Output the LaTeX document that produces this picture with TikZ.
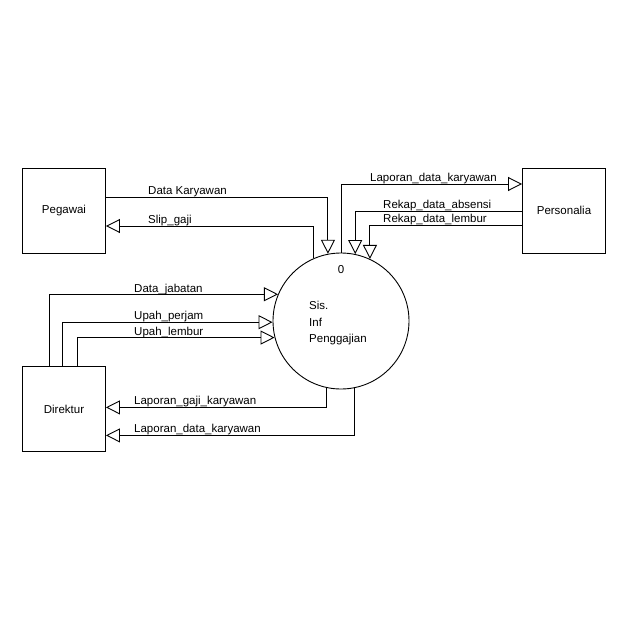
\documentclass[tikz,border=0pt]{standalone}
\usepackage{fontspec}
\setmainfont{Liberation Sans}
\usetikzlibrary{arrows.meta,positioning}

\begin{document}
\begin{tikzpicture}[x=1pt, y=-1pt,
  ent/.style={draw, line width=0.9pt, minimum width=83pt, minimum height=85pt, inner sep=0pt, font=\fontsize{11.5}{14}\selectfont},
  lbl/.style={anchor=base west, inner sep=0pt, font=\fontsize{11.5}{14}\selectfont},
  arr/.style={-{Triangle[open, length=14pt, width=14pt]}, line width=0.9pt}
]
\useasboundingbox (0,0) rectangle (626,626);
\node[ent] (peg) at (64,211) {Pegawai};
\node[ent, below=112pt of peg] (dir) {Direktur};
\node[ent] (pers) at (564,210.5) {Personalia};
\node[draw, circle, line width=0.9pt, minimum size=136pt, inner sep=0pt] (sis) at (341,321) {};
\node[lbl, anchor=center] (zero) at (341,270) {0};
\node[lbl, anchor=west, align=left, font=\fontsize{11.5}{16.5}\selectfont] (sisTxt) at (309,323.5) {Sis.\\Inf\\Penggajian};

% Pegawai
\draw[arr] ([yshift=14pt]peg.east) -| (sis.101.9);
\draw[arr] (sis.114.3) |- ([yshift=-15pt]peg.east);
\node[lbl] (lDK) at (148,194.5) {Data Karyawan};
\node[lbl] (lSG) at (148,223) {Slip\_gaji};

% Personalia
\draw[arr] (sis.north) |- ([yshift=26.5pt]pers.west);
\draw[arr] ([yshift=-1pt]pers.west) -| (sis.78.1);
\draw[arr] ([yshift=-15pt]pers.west) -| (sis.65.7);
\node[lbl] (lLDK) at (370,181) {Laporan\_data\_karyawan};
\node[lbl] (lRDA) at (383,208.5) {Rekap\_data\_absensi};
\node[lbl] (lRDL) at (383,222.5) {Rekap\_data\_lembur};

% Direktur
\draw[arr] ([xshift=-14.5pt]dir.north) |- (sis.157.5);
\draw[arr] ([xshift=-1.5pt]dir.north) |- (sis.181.7);
\draw[arr] ([xshift=13.5pt]dir.north) |- (sis.194.5);
\draw[arr] (sis.258.1) |- ([yshift=1.5pt]dir.east);
\draw[arr] (sis.281.9) |- ([yshift=-26.5pt]dir.east);
\node[lbl] (lDJ) at (134,292) {Data\_jabatan};
\node[lbl] (lUP) at (134,319.5) {Upah\_perjam};
\node[lbl] (lUL) at (134,335) {Upah\_lembur};
\node[lbl] (lLGK) at (134,404) {Laporan\_gaji\_karyawan};
\node[lbl] (lLDK2) at (134,432) {Laporan\_data\_karyawan};
\end{tikzpicture}
\end{document}
